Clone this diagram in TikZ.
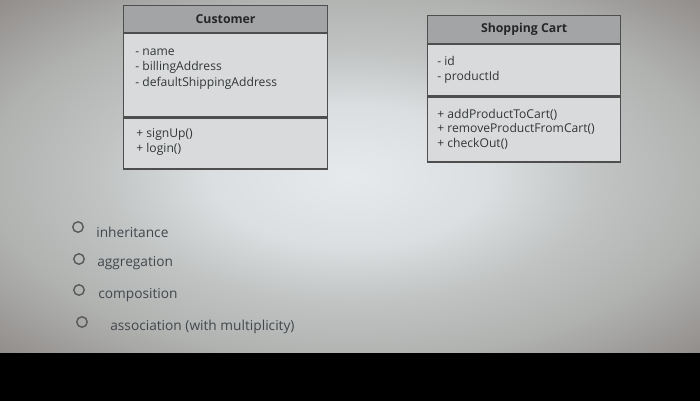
\documentclass[tikz,border=0pt]{standalone}
\usepackage{fontspec}
\setmainfont{Open Sans}
\usepackage{xcolor}
\usetikzlibrary{positioning}
\definecolor{screenlight}{HTML}{E6EAEC}
\definecolor{screenmid}{HTML}{B0B2B0}
\definecolor{screendark}{HTML}{8C8684}
\definecolor{boxline}{HTML}{4E4E4E}
\definecolor{headgray}{HTML}{A2A4A6}
\definecolor{bodygray}{HTML}{D8DADB}
\definecolor{membertext}{HTML}{333638}
\definecolor{optiontext}{HTML}{42474D}
\pgfdeclareradialshading{screenglow}{\pgfpoint{0bp}{0bp}}{color(0bp)=(screenlight); color(10bp)=(screenlight!95!black); color(18bp)=(screenmid!70!screenlight); color(26bp)=(screenmid); color(35bp)=(screendark!80!screenmid); color(42bp)=(screendark); color(50bp)=(screendark)}
\tikzstyle{classhead} = [rectangle, draw=boxline, line width=0.7pt, fill=headgray, inner sep=0pt, anchor=north west, font=\bfseries\fontsize{7}{8.5}\selectfont, text=black!85]
\tikzstyle{compart} = [rectangle, draw=boxline, line width=0.7pt, fill=bodygray, inner sep=0pt]
\tikzstyle{members} = [align=left, inner sep=0pt, font=\fontsize{6.9}{8.5}\selectfont, text=membertext]
\tikzstyle{radio} = [circle, draw=black!65, line width=0.8pt, minimum size=0.21cm, inner sep=0pt]
\tikzstyle{choice} = [inner sep=0pt, font=\fontsize{7.8}{9}\selectfont, text=optiontext]

\begin{document}
\begin{tikzpicture}[node distance=0pt]

	\useasboundingbox (0,0) rectangle (14,8.02);
	\shade[shading=screenglow] (0,0.96) rectangle (14,8.02);
	\fill[black] (0,0) rectangle (14,0.96);

	% Customer class
	\node (custHead) [classhead, minimum width=4.08cm, minimum height=0.54cm] at (2.46,7.92) {Customer};
	\node (custAttr) [compart, minimum width=4.08cm, minimum height=1.66cm, below=of custHead] {};
	\node (custOps) [compart, minimum width=4.08cm, minimum height=1.02cm, below=of custAttr] {};
	\node (custAttrText) [members, font=\fontsize{6.9}{8.8}\selectfont, below right=0.3cm and 0.24cm of custAttr.north west] {- name\\- billingAddress\\- defaultShippingAddress};
	\node (custOpsText) [members, below right=0.22cm and 0.26cm of custOps.north west] {+ signUp()\\+ login()};

	% Shopping Cart class
	\node (cartHead) [classhead, minimum width=3.86cm, minimum height=0.56cm] at (8.54,7.72) {Shopping Cart};
	\node (cartAttr) [compart, minimum width=3.86cm, minimum height=1.02cm, below=of cartHead] {};
	\node (cartOps) [compart, minimum width=3.86cm, minimum height=1.30cm, below=of cartAttr] {};
	\node (cartAttrText) [members, below right=0.24cm and 0.2cm of cartAttr.north west] {- id\\- productId};
	\node (cartOpsText) [members, below right=0.24cm and 0.2cm of cartOps.north west] {+ addProductToCart()\\+ removeProductFromCart()\\+ checkOut()};

	% answer options
	\node (inhRadio) [radio] at (1.56,3.48) {};
	\node (aggRadio) [radio] at (1.58,2.84) {};
	\node (compRadio) [radio] at (1.58,2.22) {};
	\node (assocRadio) [radio] at (1.64,1.58) {};
	\node (inh) [choice, right=0.24cm of inhRadio, yshift=-0.1cm] {inheritance};
	\node (agg) [choice, right=0.24cm of aggRadio, yshift=-0.08cm] {aggregation};
	\node (comp) [choice, right=0.26cm of compRadio, yshift=-0.1cm] {composition};
	\node (assoc) [choice, right=0.44cm of assocRadio, yshift=-0.1cm] {association (with multiplicity)};

\end{tikzpicture}
\end{document}
